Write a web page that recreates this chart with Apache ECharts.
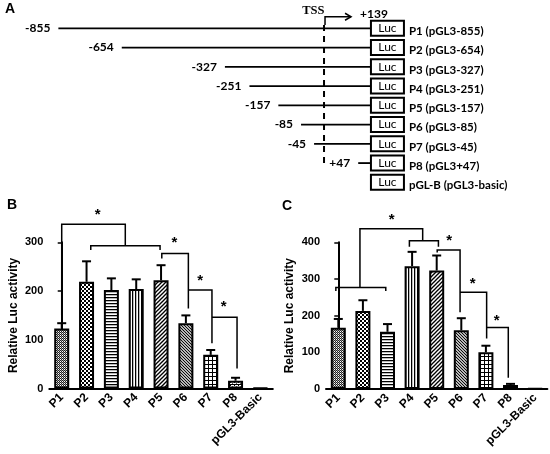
<!DOCTYPE html>
<html><head><meta charset="utf-8">
<script src="https://cdn.jsdelivr.net/npm/echarts@6/dist/echarts.min.js"></script>
<style>html,body{margin:0;padding:0;background:#fff}#c{width:550px;height:454px}</style>
</head><body><div id="c"></div>
<script>
// ---------- data ----------
const categories = ['P1','P2','P3','P4','P5','P6','P7','P8','pGL3-Basic'];
const valuesB = [123, 219, 202, 204, 222, 134, 69, 16, 1.5];
const errTopB = [134, 261, 226, 224, 253, 150, 79, 22, 1.5];
const valuesC = [167, 213, 156, 335, 323, 160, 100, 11, 2];
const errTopC = [191, 242, 177, 374, 364, 193, 118, 14, 2];
const yMaxB = 300, yMaxC = 400, yStep = 100;
// significance brackets: polylines of [category position, value]
const bracketsB = [
  [[0,150],[0,337],[2.56,337],[2.56,293]],
  [[1.17,284],[1.17,293],[3.96,293],[3.96,284]],
  [[4.03,267],[4.03,277],[5.1,277],[5.1,164]],
  [[5.1,202],[6.05,202],[6.05,93]],
  [[6.05,146],[7.06,146],[7.06,41]]
];
const starsB = [[1.45,362],[4.54,304],[5.58,227],[6.52,173]];
const bracketsC = [
  [[-0.1,267],[-0.1,277],[1.93,277],[1.93,267]],
  [[0.88,277],[0.88,437],[3.43,437],[3.43,404]],
  [[2.89,388],[2.89,404],[4.07,404],[4.07,388]],
  [[4.02,372],[4.02,379],[4.95,379],[4.95,209]],
  [[4.95,264],[6.03,264],[6.03,138]],
  [[6.03,168],[6.91,168],[6.91,31]]
];
const starsC = [[2.17,470],[4.51,411],[5.46,294],[6.44,194]];
// panel A constructs
const constructNames = ['P1 (pGL3-855)','P2 (pGL3-654)','P3 (pGL3-327)','P4 (pGL3-251)','P5 (pGL3-157)','P6 (pGL3-85)','P7 (pGL3-45)','P8 (pGL3+47)','pGL-B (pGL3-basic)'];
const startLabels = ['-855','-654','-327','-251','-157','-85','-45','+47',''];
const lineStart = [-855,-651,-319,-240,-147,-74,-32,110,null];
const tssPos = 0;
const lucPos = 151;
const tssLabel = 'TSS', endLabel = '+139', lucLabel = 'Luc';

// ---------- patterns ----------
function pat(w, h, draw) {
  const c = document.createElement('canvas'); c.width = w; c.height = h;
  const g = c.getContext('2d');
  g.fillStyle = '#fff'; g.fillRect(0, 0, w, h);
  g.fillStyle = '#000'; g.strokeStyle = '#000';
  draw(g, w, h);
  return { image: c, repeat: 'repeat' };
}
const patterns = [
  pat(2, 2, g => { g.fillStyle = '#222'; g.fillRect(0,0,1,1); g.fillRect(1,1,1,1); g.fillStyle='#999'; g.fillRect(1,0,1,1); }),
  pat(4, 4, g => { g.fillRect(0,0,2,2); g.fillRect(2,2,2,2); }),
  pat(1, 3, g => { g.fillRect(0,0,1,1); g.fillStyle='#777'; g.fillRect(0,1,1,0.5); }),
  pat(3, 1, g => { g.fillRect(0,0,1,1); g.fillStyle='#777'; g.fillRect(1,0,0.5,1); }),
  pat(4, 4, g => { g.lineWidth = 1.3; for (let k=-1;k<=2;k++){ g.beginPath(); g.moveTo(k*4-1, 5); g.lineTo(k*4+5, -1); g.stroke(); } }),
  pat(3, 3, g => { g.lineWidth = 1.1; for (let k=-1;k<=2;k++){ g.beginPath(); g.moveTo(k*3-1, -1); g.lineTo(k*3+4, 4); g.stroke(); } }),
  pat(4, 4, g => { g.fillRect(0,0,4,1); g.fillRect(0,0,1,4); }),
  pat(4, 3, g => { g.fillRect(0,0,4,1); g.fillRect(2,1,1,1); g.fillStyle='#666'; g.fillRect(0,2,1,1); }),
  '#fff'
];

// ---------- helpers ----------
const FONT = '"Liberation Sans", Arial, sans-serif';
function renderErr(params, api) {
  const x = api.value(0), v = api.value(1), e = api.value(2);
  if (!(e > v)) return null;
  const p0 = api.coord([x, v]), p1 = api.coord([x, e]);
  return { type: 'group', children: [
    { type: 'line', shape: { x1: p0[0], y1: p0[1], x2: p1[0], y2: p1[1] }, style: { stroke: '#000', lineWidth: 2 } },
    { type: 'line', shape: { x1: p1[0]-4.5, y1: p1[1], x2: p1[0]+4.5, y2: p1[1] }, style: { stroke: '#000', lineWidth: 2 } }
  ]};
}
function bracketRenderer(list) {
  return function (params, api) {
    const pts = list[params.dataIndex].map(p => api.coord(p));
    return { type: 'polyline', shape: { points: pts }, style: { stroke: '#000', lineWidth: 1.5, fill: null } };
  };
}
function renderStar(params, api) {
  const p = api.coord([api.value(0), api.value(1)]);
  return { type: 'text', x: p[0], y: p[1] + 3, style: { text: '*', fill: '#000', font: 'bold 15px ' + FONT, align: 'center', verticalAlign: 'middle', textAlign: 'center', textVerticalAlign: 'middle' } };
}
function barData(vals) { return vals.map((v, i) => ({ value: v, itemStyle: { color: patterns[i] } })); }

function catAxis(gi) {
  return { type: 'category', gridIndex: gi, data: categories,
    axisLine: { lineStyle: { color: '#000', width: 2 } },
    axisTick: { alignWithLabel: true, length: 4, lineStyle: { color: '#000', width: 1.5 } },
    axisLabel: { rotate: 45, margin: 7, color: '#000', fontWeight: 'bold', fontSize: 12, fontFamily: FONT }
  };
}
function hidX(gi) { return { type: 'value', gridIndex: gi, min: -0.5, max: 8.5, show: false }; }
function valAxis(gi, max) {
  return { type: 'value', gridIndex: gi, min: 0, max: max, interval: yStep,
    name: 'Relative Luc activity', nameLocation: 'middle', nameGap: 30, nameRotate: 90,
    nameTextStyle: { color: '#000', fontWeight: 'bold', fontSize: 12, fontFamily: FONT },
    axisLine: { show: true, lineStyle: { color: '#000', width: 2 } },
    axisTick: { show: true, length: 4, lineStyle: { color: '#000', width: 1.5 } },
    axisLabel: { margin: 6, color: '#000', fontWeight: 'bold', fontSize: 11, fontFamily: FONT },
    splitLine: { show: false }
  };
}

// panel A renderers
function renderConstruct(params, api) {
  const i = params.dataIndex;
  const y = api.coord([0, i])[1];
  const xb = api.coord([lucPos, i])[0];
  const ch = [];
  if (lineStart[i] != null) {
    const xs = api.coord([lineStart[i], i])[0];
    ch.push({ type: 'line', shape: { x1: xs, y1: y, x2: xb, y2: y }, style: { stroke: '#000', lineWidth: 1.8 } });
    ch.push({ type: 'text', x: xs - 8, y: y, style: { text: startLabels[i], fill: '#000', font: 'bold 12px Lato, sans-serif', align: 'right', verticalAlign: 'middle', textAlign: 'right', textVerticalAlign: 'middle' } });
  }
  ch.push({ type: 'rect', shape: { x: xb, y: y - 7.5, width: 33, height: 15 }, style: { fill: '#fff', stroke: '#000', lineWidth: 2 } });
  ch.push({ type: 'text', x: xb + 16.5, y: y, style: { text: lucLabel, fill: '#000', font: '12px Lato, sans-serif', align: 'center', verticalAlign: 'middle', textAlign: 'center', textVerticalAlign: 'middle' } });
  ch.push({ type: 'text', x: xb + 38, y: y + 3, style: { text: constructNames[i], fill: '#000', font: 'bold 11.5px Lato, sans-serif', align: 'left', verticalAlign: 'middle', textAlign: 'left', textVerticalAlign: 'middle' } });
  return { type: 'group', children: ch };
}
function renderTSS(params, api) {
  const x = api.coord([tssPos, 0])[0];
  const yTop = api.coord([0, -0.17])[1];
  const yBot = api.coord([0, 7.26])[1];
  const ya = yTop - 8.3;
  return { type: 'group', children: [
    { type: 'line', shape: { x1: x, y1: yTop, x2: x, y2: yBot }, style: { stroke: '#000', lineWidth: 2, lineDash: [6, 5] } },
    { type: 'polyline', shape: { points: [[x + 1, yTop], [x + 1, ya], [x + 27, ya]] }, style: { stroke: '#000', lineWidth: 1.5, fill: null } },
    { type: 'polyline', shape: { points: [[x + 21, ya - 3.5], [x + 27, ya], [x + 21, ya + 3.5]] }, style: { stroke: '#000', lineWidth: 1.5, fill: null } },
    { type: 'text', x: x - 10.7, y: ya - 5.5, style: { text: tssLabel, fill: '#000', font: 'bold 12.5px "Liberation Serif", serif', align: 'center', verticalAlign: 'middle', textAlign: 'center', textVerticalAlign: 'middle' } },
    { type: 'text', x: x + 36, y: ya - 3, style: { text: endLabel, fill: '#000', font: 'bold 12px Lato, sans-serif', align: 'left', verticalAlign: 'middle', textAlign: 'left', textVerticalAlign: 'middle' } }
  ]};
}

const option = {
  animation: false,
  backgroundColor: '#fff',
  graphic: [
    { type: 'text', x: 10, y: 9, style: { text: 'A', fill: '#000', font: 'bold 14px ' + FONT, align: 'center', verticalAlign: 'middle', textAlign: 'center', textVerticalAlign: 'middle' } },
    { type: 'text', x: 12, y: 205.5, style: { text: 'B', fill: '#000', font: 'bold 14px ' + FONT, align: 'center', verticalAlign: 'middle', textAlign: 'center', textVerticalAlign: 'middle' } },
    { type: 'text', x: 287, y: 206, style: { text: 'C', fill: '#000', font: 'bold 14px ' + FONT, align: 'center', verticalAlign: 'middle', textAlign: 'center', textVerticalAlign: 'middle' } }
  ],
  grid: [
    { left: 49.3, top: 242.3, width: 223.5, height: 146.2 },
    { left: 326, top: 242.3, width: 221.4, height: 146.7 },
    { left: 44.4, top: 18.7, width: 403.9, height: 173.25 }
  ],
  xAxis: [
    catAxis(0), hidX(0), catAxis(1), hidX(1),
    { type: 'value', gridIndex: 2, min: -900, max: 400, show: false }
  ],
  yAxis: [
    valAxis(0, yMaxB), valAxis(1, yMaxC),
    { type: 'value', gridIndex: 2, min: -0.5, max: 8.5, inverse: true, show: false }
  ],
  series: [
    { type: 'custom', xAxisIndex: 1, yAxisIndex: 0, z: 1, renderItem: renderErr, data: valuesB.map((v, i) => [i, v, errTopB[i]]) },
    { type: 'bar', xAxisIndex: 0, yAxisIndex: 0, z: 2, barWidth: 15, data: barData(valuesB), itemStyle: { borderColor: '#000', borderWidth: 2 } },
    { type: 'custom', xAxisIndex: 1, yAxisIndex: 0, z: 3, renderItem: bracketRenderer(bracketsB), data: bracketsB.map(b => b[0]) },
    { type: 'custom', xAxisIndex: 1, yAxisIndex: 0, z: 3, renderItem: renderStar, data: starsB },
    { type: 'custom', xAxisIndex: 3, yAxisIndex: 1, z: 1, renderItem: renderErr, data: valuesC.map((v, i) => [i, v, errTopC[i]]) },
    { type: 'bar', xAxisIndex: 2, yAxisIndex: 1, z: 2, barWidth: 15, data: barData(valuesC), itemStyle: { borderColor: '#000', borderWidth: 2 } },
    { type: 'custom', xAxisIndex: 3, yAxisIndex: 1, z: 3, renderItem: bracketRenderer(bracketsC), data: bracketsC.map(b => b[0]) },
    { type: 'custom', xAxisIndex: 3, yAxisIndex: 1, z: 3, renderItem: renderStar, data: starsC },
    { type: 'custom', xAxisIndex: 4, yAxisIndex: 2, z: 1, renderItem: renderTSS, data: [[tssPos, 0]] },
    { type: 'custom', xAxisIndex: 4, yAxisIndex: 2, z: 2, renderItem: renderConstruct, data: constructNames.map((n, i) => [lucPos, i]) }
  ]
};
const chart = echarts.init(document.getElementById('c'), null, { renderer: 'canvas' });
chart.setOption(option);
</script></body></html>
